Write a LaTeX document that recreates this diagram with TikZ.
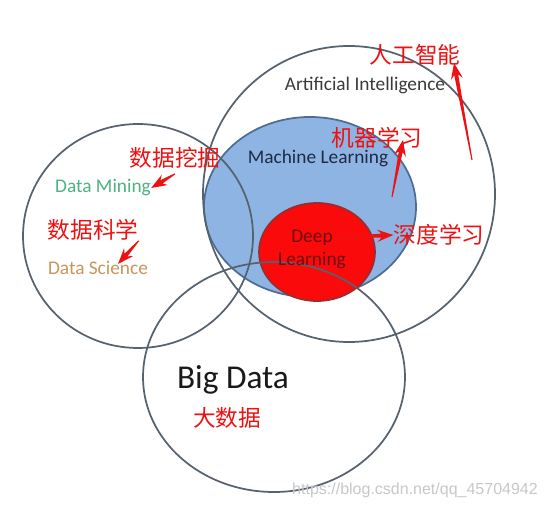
\documentclass[tikz,border=0pt]{standalone}
\usepackage{fontspec}
\usepackage{tikz}
\usepackage{xcolor}
\usetikzlibrary{calc, positioning}
\setmainfont{Carlito}
\newfontfamily\cjk{Noto Sans CJK SC}
\newfontfamily\wmfont{Liberation Sans}
\definecolor{ringline}{HTML}{56626E}
\definecolor{mlfill}{HTML}{8DB4E2}
\definecolor{mlline}{HTML}{4F6C94}
\definecolor{dlfill}{HTML}{FA0A0A}
\definecolor{dlline}{HTML}{9A2E2E}
\definecolor{aitext}{HTML}{3A3A3A}
\definecolor{mltext}{HTML}{1F2A44}
\definecolor{dltext}{HTML}{6E0F12}
\definecolor{dmtext}{HTML}{4DB381}
\definecolor{dstext}{HTML}{C9965A}
\definecolor{zhred}{HTML}{EE1111}
\definecolor{wmgray}{HTML}{C8C8C8}

% tapered hand-drawn red arrow from #1 (tail) to #2 (tip)
\newcommand{\redarrow}[2]{%
  \path (#1) coordinate (ra-t) (#2) coordinate (ra-h);
  \coordinate (ra-b) at ($(ra-h)!12pt!(ra-t)$);
  \coordinate (ra-n) at ($(ra-h)!9pt!(ra-t)$);
  \fill[zhred] ($(ra-t)!0.4pt!90:(ra-b)$) -- ($(ra-n)!1.5pt!-90:(ra-t)$)
    -- ($(ra-b)!4.5pt!-90:(ra-t)$) -- (ra-h) -- ($(ra-b)!4.5pt!90:(ra-t)$)
    -- ($(ra-n)!1.5pt!90:(ra-t)$) -- ($(ra-t)!0.4pt!-90:(ra-b)$) -- cycle;
}

\begin{document}
\begin{tikzpicture}[
    x=0.75pt, y=-0.75pt,
    ring/.style={draw=ringline, line width=1.3pt},
    entext/.style={inner sep=0pt, font=\fontsize{14.5}{16}\selectfont},
    zhtext/.style={inner sep=0pt, text=zhred, font=\cjk\fontsize{17}{19}\selectfont}
]
    \useasboundingbox[fill=white] (0,0) rectangle (546,509);

    % filled sets
    \filldraw[fill=mlfill, draw=mlline, line width=1.3pt] (310,207) ellipse [x radius=106, y radius=90];
    \filldraw[fill=dlfill, draw=dlline, line width=1.3pt] (317,252) ellipse [x radius=58, y radius=49];

    % outlined sets
    \draw[ring] (138,236) ellipse [x radius=115, y radius=112];
    \draw[ring] (274,377) ellipse [x radius=131, y radius=115];
    \draw[ring] (349,194) ellipse [x radius=146, y radius=148];

    % english labels
    \node[entext, text=aitext] (aiEn) at (365,85) {Artificial Intelligence};
    \node[entext, text=mltext] (mlEn) at (318,158) {Machine Learning};
    \node[entext, text=dltext] (dlDeep) at (312,238) {Deep};
    \node[entext, text=dltext] (dlLearn) at (312,261) {Learning};
    \node[entext, text=dmtext] (dmEn) at (103,188) {Data Mining};
    \node[entext, text=dstext] (dsEn) at (98,268) {Data Science};
    \node[inner sep=0pt, font=\fontsize{25}{28}\selectfont, text=black!90] (bdEn) at (233,380) {Big Data};

    % chinese labels
    \node[zhtext] (aiZh) at (415,55) {人工智能};
    \node[zhtext] (mlZh) at (377,138) {机器学习};
    \node[zhtext] (dlZh) at (439,235) {深度学习};
    \node[zhtext] (dmZh) at (175,158) {数据挖掘};
    \node[zhtext] (dsZh) at (93,230) {数据科学};
    \node[zhtext] (bdZh) at (227,418) {大数据};

    % watermark
    \node[inner sep=0pt, text=wmgray, font=\wmfont\fontsize{12}{14}\selectfont] (wm) at (415,490) {https://blog.csdn.net/qq\_45704942};

    % arrows
    \coordinate (aiTail) at (472,160);
    \coordinate (aiTip) at (454,63);
    \coordinate (mlTail) at (392,197);
    \coordinate (mlTip) at (403,140);
    \redarrow{aiTail}{aiTip}
    \redarrow{mlTail}{mlTip}
    \redarrow{dlDeep.east}{dlZh.west}
    \redarrow{$(dmZh.south)+(0,5)$}{dmEn.east}
    \redarrow{dsZh.south east}{$(dsEn.north)+(20,3)$}
\end{tikzpicture}
\end{document}
